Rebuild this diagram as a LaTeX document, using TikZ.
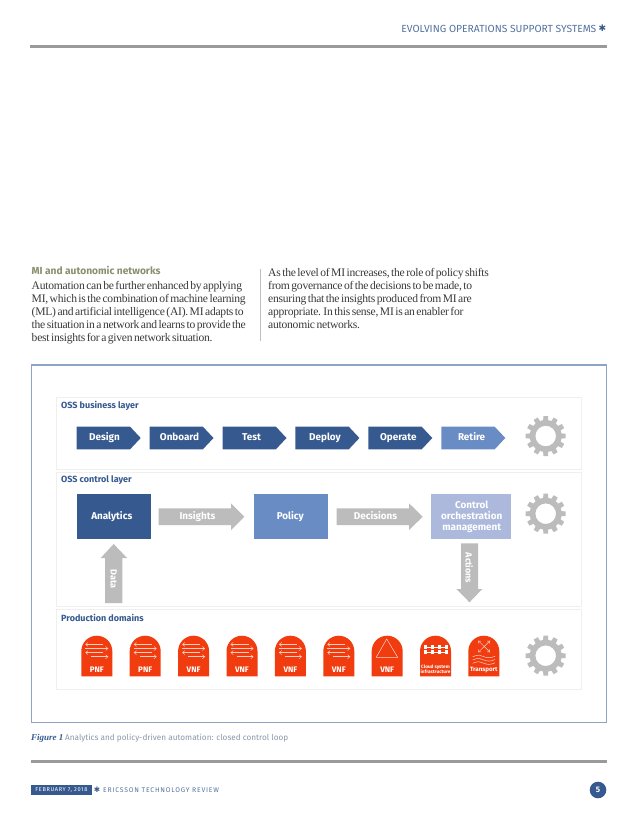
\documentclass[tikz,border=0pt]{standalone}
\usepackage{fontspec}
\setmainfont{Liberation Serif}
\setsansfont{Fira Sans}
\usetikzlibrary{arrows.meta}
\definecolor{dkblue}{HTML}{365A8F}
\definecolor{mdblue}{HTML}{6A8CC4}
\definecolor{ltblue}{HTML}{ACB9DC}
\definecolor{framecol}{HTML}{8FA3C4}
\definecolor{arrowgrey}{HTML}{BCBCBC}
\definecolor{rulegrey}{HTML}{9A9A9A}
\definecolor{panelline}{HTML}{EFEFEF}
\definecolor{redcol}{HTML}{F03C0F}
\definecolor{headcol}{HTML}{8A8F6F}
\definecolor{capgrey}{HTML}{8C97A8}
\definecolor{bodycol}{HTML}{3A3A3A}
\newfontfamily\tightserif[LetterSpace=-2.2,WordSpace=0.55]{Liberation Serif}
\newfontfamily\wideface[LetterSpace=12]{Fira Sans}
\newfontfamily\symface{DejaVu Sans}
\newcommand{\chevshape}[5]{% name, x, label, colour, label centre x
  \fill[#4] (#2,426.7) -- ++(53.4,0) -- ++(10.6,11.3) -- ++(-10.6,11.3) -- ++(-53.4,0) -- cycle;
  \node[boxlabel,text height=7.2pt,text depth=2.2pt] (#1) at (#5,438) {#3};
}
\newcommand{\gearshape}[3]{% name, x, y
  \coordinate (#1) at (#2,#3);
  \begin{scope}[shift={(#2,#3)}]
    \foreach \a in {0,30,...,330}{
      \fill[arrowgrey,rotate=\a] (-2.6,-15) -- (-2.3,-20) -- (2.3,-20) -- (2.6,-15) -- cycle;
    }
    \fill[arrowgrey,even odd rule] (0,0) circle[radius=16] (0,0) circle[radius=10.3];
  \end{scope}
}
\newcommand{\stone}[2]{% name, x
  \fill[redcol] (#2,676.3) -- (#2,651.2) arc[start angle=180,end angle=360,radius=15.5] -- (#2+31,676.3) -- cycle;
  \coordinate (#1) at (#2,635.7);
}
\newcommand{\arrowicon}[1]{%
  \begin{scope}[shift={(#1,0)},draw=white!75!redcol,line width=.45pt,-{Straight Barb[length=2.4pt,width=4pt]}]
    \draw (22,644.4) -- (4,644.4);
    \draw (4,648.5) -- (27,648.5);
    \draw (22,652.6) -- (4,652.6);
    \draw (10,656.7) -- (27,656.7);
  \end{scope}
}
\tikzset{
  whitelabel/.style={text=white,inner sep=0pt,align=center},
  boxlabel/.style={whitelabel,font=\sffamily\bfseries\fontsize{9.9}{11}\selectfont},
  bodyline/.style={anchor=base west,inner sep=0pt,text=bodycol,font=\tightserif\fontsize{11.6}{13}\selectfont},
  layertitle/.style={anchor=west,inner sep=0pt,text=dkblue,font=\sffamily\bfseries\fontsize{9}{10}\selectfont},
  panel/.style={draw=panelline,line width=.6pt,fill=white},
  stonelabel/.style={whitelabel,text height=5.6pt,text depth=0pt,font=\sffamily\bfseries\fontsize{8}{8}\selectfont},
  tinylabel/.style={whitelabel,font=\sffamily\bfseries\fontsize{4.7}{5.2}\selectfont},
}
\begin{document}
\begin{tikzpicture}[x=1pt,y=-1pt]
\useasboundingbox (0,0) rectangle (638,828);
\fill[white] (0,0) rectangle (638,828);
% header
\node[anchor=base east,inner sep=0pt,text=dkblue!85,font=\sffamily\fontsize{10.3}{11}\selectfont] (hdr) at (596.5,32.5) {EVOLVING OPERATIONS SUPPORT SYSTEMS};
\node[inner sep=0pt,text=dkblue,font=\symface\fontsize{9}{9}\selectfont] (hdrstar) at (602.5,28.7) {✱};
\fill[rulegrey] (30,45) rectangle (607,47.6);
% body text
\node[bodyline,text=headcol,font=\sffamily\bfseries\fontsize{10.2}{11}\selectfont] (mih) at (31.5,274.5) {MI and autonomic networks};
\node[bodyline] (l1) at (31.5,289) {Automation can be further enhanced by applying};
\node[bodyline] (l2) at (31.5,302) {MI, which is the combination of machine learning};
\node[bodyline] (l3) at (31.5,315) {(ML) and artificial intelligence (AI). MI adapts to};
\node[bodyline] (l4) at (31.5,328) {the situation in a network and learns to provide the};
\node[bodyline] (l5) at (31.5,341) {best insights for a given network situation.};
\fill[black!25] (259.5,269) rectangle (260.7,341);
\node[bodyline] (r1) at (268,276) {As the level of MI increases, the role of policy shifts};
\node[bodyline] (r2) at (268,289) {from governance of the decisions to be made, to};
\node[bodyline] (r3) at (268,302) {ensuring that the insights produced from MI are};
\node[bodyline] (r4) at (268,315) {appropriate. In this sense, MI is an enabler for};
\node[bodyline] (r5) at (268,328) {autonomic networks.};
% frame and panels
\draw[framecol,line width=1.3pt] (31.7,365) rectangle (606.7,722.7);
\draw[panel] (56,397) rectangle (581.7,469);
\draw[panel] (56,472) rectangle (581.7,606);
\draw[panel] (56,609) rectangle (581.7,689);
\node[layertitle] (t1) at (61,406) {OSS business layer};
\node[layertitle] (t2) at (61,480) {OSS control layer};
\node[layertitle] (t3) at (61,617.5) {Production domains};
% chevrons
\chevshape{design}{76.7}{Design}{dkblue}{104.5}
\chevshape{onboard}{149.5}{Onboard}{dkblue}{179.5}
\chevshape{test}{222.5}{Test}{dkblue}{251.6}
\chevshape{deploy}{295.4}{Deploy}{dkblue}{325}
\chevshape{operate}{368.3}{Operate}{dkblue}{398.3}
\chevshape{retire}{441.3}{Retire}{mdblue}{471.6}
% control layer
\fill[dkblue] (76.7,493.7) rectangle (150.7,539.3);
\node[boxlabel,text height=7.2pt,text depth=2.2pt] (analytics) at (111.8,517) {Analytics};
\fill[mdblue] (253.7,493.7) rectangle (328,539.3);
\node[boxlabel,text height=7.2pt,text depth=2.2pt] (policy) at (290.3,517) {Policy};
\fill[ltblue] (431,493.7) rectangle (510.7,539.3);
\node[boxlabel] (control) at (471.7,516.5) {Control\\orchestration\\management};
\fill[arrowgrey] (158.7,508.3) -- (231,508.3) -- (231,503.3) -- (244.3,516.7) -- (231,530) -- (231,525) -- (158.7,525) -- cycle;
\node[boxlabel,text height=7.2pt,text depth=2.2pt] (insights) at (197.5,517) {Insights};
\fill[arrowgrey] (336.7,508.3) -- (409,508.3) -- (409,503.3) -- (422.7,516.7) -- (409,530) -- (409,525) -- (336.7,525) -- cycle;
\node[boxlabel,text height=7.2pt,text depth=2.2pt] (decisions) at (375.5,517) {Decisions};
\fill[arrowgrey] (461,543.3) -- (478,543.3) -- (478,589) -- (482.3,589) -- (469.5,602.3) -- (456.5,589) -- (461,589) -- cycle;
\node[whitelabel,rotate=-90,font=\sffamily\bfseries\fontsize{9}{9}\selectfont] (actions) at (469.3,568) {Actions};
\fill[arrowgrey] (105,603) -- (105,558) -- (100.7,558) -- (113.7,544) -- (127,558) -- (122.3,558) -- (122.3,603) -- cycle;
\node[whitelabel,rotate=-90,font=\sffamily\bfseries\fontsize{9}{9}\selectfont] (data) at (113.7,579) {Data};
% gears
\gearshape{g1}{545.7}{436}
\gearshape{g2}{545.7}{513.7}
\gearshape{g3}{545.7}{655.7}
% production
\stone{s1}{81.3}\stone{s2}{129.7}\stone{s3}{178.1}\stone{s4}{226.5}\stone{s5}{274.9}\stone{s6}{323.3}\stone{s7}{371.7}\stone{s8}{420}\stone{s9}{468.3}
\arrowicon{81.3}\arrowicon{129.7}\arrowicon{178.1}\arrowicon{226.5}\arrowicon{274.9}\arrowicon{323.3}
\node[stonelabel] (n1) at (96.8,670) {PNF};
\node[stonelabel] (n2) at (145.2,670) {PNF};
\node[stonelabel] (n3) at (193.6,670) {VNF};
\node[stonelabel] (n4) at (242,670) {VNF};
\node[stonelabel] (n5) at (290.4,670) {VNF};
\node[stonelabel] (n6) at (338.8,670) {VNF};
\node[stonelabel] (n7) at (387.2,670) {VNF};
\draw[white!80!redcol,line width=.5pt] (386.7,639) -- (397.7,657.3) -- (376.2,657.3) -- cycle;
% cloud icon
\foreach \yy in {646.7,651.8}{
  \draw[white,line width=.4pt] (424,\yy) -- (448,\yy);
  \foreach \xx in {425.5,432.5,439.5,446.5}{\fill[white] (\xx-1.9,\yy-1.8) rectangle (\xx+1.9,\yy+1.8);}
}
\node[tinylabel] (n8) at (435.5,669.5) {Cloud system\\infrastructure};
% transport icon
\begin{scope}[draw=white!80!redcol,line width=.5pt,{Straight Barb[length=2pt,width=3.4pt]}-{Straight Barb[length=2pt,width=3.4pt]}]
\draw (478.3,640.7) -- (490,652.3);
\draw (490,640.7) -- (478.3,652.3);
\end{scope}
\foreach \yy in {656.7,660,663.3}{
  \draw[white!80!redcol,line width=.5pt] (472.7,\yy) .. controls (478,\yy-2.5) and (481,\yy-1.5) .. (484,\yy) .. controls (487,\yy+1.5) and (491,\yy+1.5) .. (495,\yy-.5);
}
\node[whitelabel,font=\sffamily\bfseries\fontsize{6.2}{7}\selectfont] (n9) at (483.8,670.5) {Transport};
% caption
\node[anchor=base west,inner sep=0pt,text=dkblue,font=\rmfamily\bfseries\itshape\fontsize{9}{10}\selectfont] (figlab) at (31,740) {Figure 1};
\node[anchor=base west,inner sep=0pt,text=capgrey,font=\sffamily\fontsize{8.2}{10}\selectfont] (cap) at (65,740) {Analytics and policy-driven automation: closed control loop};
% footer
\fill[rulegrey] (31,760) rectangle (607,762.6);
\fill[dkblue] (31,785) rectangle (91.7,795);
\node[whitelabel,font=\wideface\fontsize{5.6}{6}\selectfont] (date) at (61.4,790) {FEBRUARY 7, 2018};
\node[inner sep=0pt,text=dkblue,font=\symface\fontsize{7.5}{8}\selectfont] (fstar) at (97,790) {✱};
\node[anchor=west,inner sep=0pt,text=dkblue!85,font=\wideface\fontsize{6.8}{7}\selectfont] (mag) at (103,790) {ERICSSON TECHNOLOGY REVIEW};
\fill[dkblue] (598,790) circle[radius=8.3];
\node[whitelabel,font=\sffamily\bfseries\fontsize{8}{8}\selectfont] (page) at (598,790) {5};
\end{tikzpicture}
\end{document}
